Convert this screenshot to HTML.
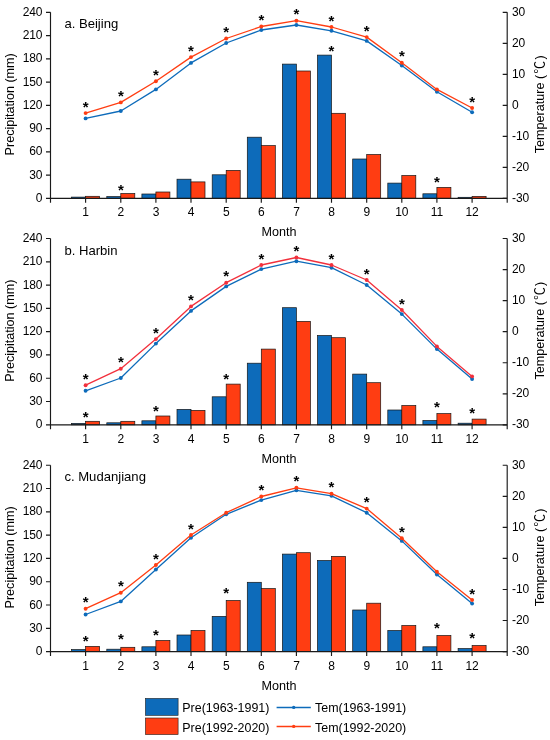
<!DOCTYPE html>
<html><head><meta charset="utf-8"><title>Precipitation and temperature</title>
<style>html,body{margin:0;padding:0;background:#fff}svg{display:block}text{font-family:"Liberation Sans","Noto Sans CJK SC",sans-serif;fill:#000}.t{font-size:12px;letter-spacing:-0.15px}.l{font-size:12.6px}.m{font-size:12.6px}.h{font-size:13.1px}.g{font-size:12.45px}.s{font-size:15px;font-weight:bold;text-anchor:middle}</style></head><body>
<svg width="550" height="740" viewBox="0 0 550 740">
<rect width="550" height="740" fill="#fff"/>
<rect x="71.6" y="197.1" width="14.0" height="1.2" fill="#0d6bba" stroke="#151515" stroke-width="0.7"/>
<rect x="85.6" y="196.3" width="14.0" height="2.0" fill="#ff3d12" stroke="#151515" stroke-width="0.7"/>
<rect x="106.8" y="196.6" width="14.0" height="1.7" fill="#0d6bba" stroke="#151515" stroke-width="0.7"/>
<rect x="120.8" y="193.5" width="14.0" height="4.8" fill="#ff3d12" stroke="#151515" stroke-width="0.7"/>
<rect x="141.9" y="194.0" width="14.0" height="4.3" fill="#0d6bba" stroke="#151515" stroke-width="0.7"/>
<rect x="155.9" y="192.0" width="14.0" height="6.3" fill="#ff3d12" stroke="#151515" stroke-width="0.7"/>
<rect x="177.0" y="179.2" width="14.0" height="19.1" fill="#0d6bba" stroke="#151515" stroke-width="0.7"/>
<rect x="191.0" y="181.9" width="14.0" height="16.4" fill="#ff3d12" stroke="#151515" stroke-width="0.7"/>
<rect x="212.2" y="174.8" width="14.0" height="23.5" fill="#0d6bba" stroke="#151515" stroke-width="0.7"/>
<rect x="226.2" y="170.4" width="14.0" height="27.9" fill="#ff3d12" stroke="#151515" stroke-width="0.7"/>
<rect x="247.3" y="137.2" width="14.0" height="61.1" fill="#0d6bba" stroke="#151515" stroke-width="0.7"/>
<rect x="261.3" y="145.6" width="14.0" height="52.7" fill="#ff3d12" stroke="#151515" stroke-width="0.7"/>
<rect x="282.4" y="64.1" width="14.0" height="134.2" fill="#0d6bba" stroke="#151515" stroke-width="0.7"/>
<rect x="296.4" y="71.0" width="14.0" height="127.3" fill="#ff3d12" stroke="#151515" stroke-width="0.7"/>
<rect x="317.5" y="55.1" width="14.0" height="143.2" fill="#0d6bba" stroke="#151515" stroke-width="0.7"/>
<rect x="331.5" y="113.3" width="14.0" height="85.0" fill="#ff3d12" stroke="#151515" stroke-width="0.7"/>
<rect x="352.7" y="159.0" width="14.0" height="39.3" fill="#0d6bba" stroke="#151515" stroke-width="0.7"/>
<rect x="366.7" y="154.5" width="14.0" height="43.8" fill="#ff3d12" stroke="#151515" stroke-width="0.7"/>
<rect x="387.8" y="183.1" width="14.0" height="15.2" fill="#0d6bba" stroke="#151515" stroke-width="0.7"/>
<rect x="401.8" y="175.5" width="14.0" height="22.8" fill="#ff3d12" stroke="#151515" stroke-width="0.7"/>
<rect x="422.9" y="193.8" width="14.0" height="4.5" fill="#0d6bba" stroke="#151515" stroke-width="0.7"/>
<rect x="436.9" y="187.4" width="14.0" height="10.9" fill="#ff3d12" stroke="#151515" stroke-width="0.7"/>
<rect x="458.1" y="197.3" width="14.0" height="1.0" fill="#0d6bba" stroke="#151515" stroke-width="0.7"/>
<rect x="472.1" y="196.4" width="14.0" height="1.9" fill="#ff3d12" stroke="#151515" stroke-width="0.7"/>
<path d="M50.5 12.3V202.8M507.2 12.3V202.8M50.5 198.3H507.2" stroke="#1a1a1a" stroke-width="1.15" fill="none"/>
<path d="M46.0 198.3H50.5M46.0 175.1H50.5M46.0 151.8H50.5M46.0 128.6H50.5M46.0 105.3H50.5M46.0 82.1H50.5M46.0 58.8H50.5M46.0 35.6H50.5M46.0 12.3H50.5M502.7 198.3H507.2M502.7 167.3H507.2M502.7 136.3H507.2M502.7 105.3H507.2M502.7 74.3H507.2M502.7 43.3H507.2M502.7 12.3H507.2M85.6 198.3v4.5M120.8 198.3v4.5M155.9 198.3v4.5M191.0 198.3v4.5M226.2 198.3v4.5M261.3 198.3v4.5M296.4 198.3v4.5M331.5 198.3v4.5M366.7 198.3v4.5M401.8 198.3v4.5M436.9 198.3v4.5M472.1 198.3v4.5" stroke="#1a1a1a" stroke-width="1.15" fill="none"/>
<text class="t" x="42.3" y="201.8" text-anchor="end">0</text>
<text class="t" x="42.3" y="178.6" text-anchor="end">30</text>
<text class="t" x="42.3" y="155.3" text-anchor="end">60</text>
<text class="t" x="42.3" y="132.1" text-anchor="end">90</text>
<text class="t" x="42.3" y="108.8" text-anchor="end">120</text>
<text class="t" x="42.3" y="85.6" text-anchor="end">150</text>
<text class="t" x="42.3" y="62.3" text-anchor="end">180</text>
<text class="t" x="42.3" y="39.1" text-anchor="end">210</text>
<text class="t" x="42.3" y="15.8" text-anchor="end">240</text>
<text class="t" x="512.1" y="201.7">-30</text>
<text class="t" x="512.1" y="170.7">-20</text>
<text class="t" x="512.1" y="139.7">-10</text>
<text class="t" x="512.1" y="108.7">0</text>
<text class="t" x="512.1" y="77.7">10</text>
<text class="t" x="512.1" y="46.7">20</text>
<text class="t" x="512.1" y="15.7">30</text>
<text class="t" x="85.6" y="216.3" text-anchor="middle">1</text>
<text class="t" x="120.8" y="216.3" text-anchor="middle">2</text>
<text class="t" x="155.9" y="216.3" text-anchor="middle">3</text>
<text class="t" x="191.0" y="216.3" text-anchor="middle">4</text>
<text class="t" x="226.2" y="216.3" text-anchor="middle">5</text>
<text class="t" x="261.3" y="216.3" text-anchor="middle">6</text>
<text class="t" x="296.4" y="216.3" text-anchor="middle">7</text>
<text class="t" x="331.5" y="216.3" text-anchor="middle">8</text>
<text class="t" x="366.7" y="216.3" text-anchor="middle">9</text>
<text class="t" x="401.8" y="216.3" text-anchor="middle">10</text>
<text class="t" x="436.9" y="216.3" text-anchor="middle">11</text>
<text class="t" x="472.1" y="216.3" text-anchor="middle">12</text>
<text class="l" transform="translate(13.6 104.3) rotate(-90)" text-anchor="middle">Precipitation (mm)</text>
<text class="l" transform="translate(543.5 104.3) rotate(-90)" text-anchor="middle">Temperature (<tspan dx="1.3">℃</tspan><tspan dx="1.3">)</tspan></text>
<text class="m" x="278.9" y="236.3" text-anchor="middle">Month</text>
<text class="h" x="64.4" y="28.3">a. Beijing</text>
<polyline points="85.6,118.4 120.8,111.0 155.9,89.4 191.0,62.9 226.2,43.0 261.3,30.0 296.4,25.0 331.5,30.8 366.7,40.9 401.8,65.5 436.9,91.8 472.1,112.2" fill="none" stroke="#0d6bba" stroke-width="1.3" stroke-linejoin="round"/>
<circle cx="85.6" cy="118.4" r="1.95" fill="#0d6bba"/>
<circle cx="120.8" cy="111.0" r="1.95" fill="#0d6bba"/>
<circle cx="155.9" cy="89.4" r="1.95" fill="#0d6bba"/>
<circle cx="191.0" cy="62.9" r="1.95" fill="#0d6bba"/>
<circle cx="226.2" cy="43.0" r="1.95" fill="#0d6bba"/>
<circle cx="261.3" cy="30.0" r="1.95" fill="#0d6bba"/>
<circle cx="296.4" cy="25.0" r="1.95" fill="#0d6bba"/>
<circle cx="331.5" cy="30.8" r="1.95" fill="#0d6bba"/>
<circle cx="366.7" cy="40.9" r="1.95" fill="#0d6bba"/>
<circle cx="401.8" cy="65.5" r="1.95" fill="#0d6bba"/>
<circle cx="436.9" cy="91.8" r="1.95" fill="#0d6bba"/>
<circle cx="472.1" cy="112.2" r="1.95" fill="#0d6bba"/>
<polyline points="85.6,113.1 120.8,102.4 155.9,81.2 191.0,57.1 226.2,38.5 261.3,26.5 296.4,20.7 331.5,27.0 366.7,37.1 401.8,62.7 436.9,89.4 472.1,108.0" fill="none" stroke="#ff3d12" stroke-width="1.3" stroke-linejoin="round"/>
<circle cx="85.6" cy="113.1" r="1.95" fill="#ff3d12"/>
<circle cx="120.8" cy="102.4" r="1.95" fill="#ff3d12"/>
<circle cx="155.9" cy="81.2" r="1.95" fill="#ff3d12"/>
<circle cx="191.0" cy="57.1" r="1.95" fill="#ff3d12"/>
<circle cx="226.2" cy="38.5" r="1.95" fill="#ff3d12"/>
<circle cx="261.3" cy="26.5" r="1.95" fill="#ff3d12"/>
<circle cx="296.4" cy="20.7" r="1.95" fill="#ff3d12"/>
<circle cx="331.5" cy="27.0" r="1.95" fill="#ff3d12"/>
<circle cx="366.7" cy="37.1" r="1.95" fill="#ff3d12"/>
<circle cx="401.8" cy="62.7" r="1.95" fill="#ff3d12"/>
<circle cx="436.9" cy="89.4" r="1.95" fill="#ff3d12"/>
<circle cx="472.1" cy="108.0" r="1.95" fill="#ff3d12"/>
<text class="s" x="85.6" y="111.6">*</text>
<text class="s" x="120.8" y="100.9">*</text>
<text class="s" x="155.9" y="79.7">*</text>
<text class="s" x="191.0" y="55.6">*</text>
<text class="s" x="226.2" y="37.0">*</text>
<text class="s" x="261.3" y="25.0">*</text>
<text class="s" x="296.4" y="19.2">*</text>
<text class="s" x="331.5" y="25.5">*</text>
<text class="s" x="366.7" y="35.6">*</text>
<text class="s" x="401.8" y="61.2">*</text>
<text class="s" x="472.1" y="106.5">*</text>
<text class="s" x="120.8" y="195.3">*</text>
<text class="s" x="331.5" y="56.0">*</text>
<text class="s" x="436.9" y="186.9">*</text>
<rect x="71.6" y="423.4" width="14.0" height="1.4" fill="#0d6bba" stroke="#151515" stroke-width="0.7"/>
<rect x="85.6" y="421.3" width="14.0" height="3.5" fill="#ff3d12" stroke="#151515" stroke-width="0.7"/>
<rect x="106.8" y="422.8" width="14.0" height="2.0" fill="#0d6bba" stroke="#151515" stroke-width="0.7"/>
<rect x="120.8" y="421.3" width="14.0" height="3.5" fill="#ff3d12" stroke="#151515" stroke-width="0.7"/>
<rect x="141.9" y="420.8" width="14.0" height="4.0" fill="#0d6bba" stroke="#151515" stroke-width="0.7"/>
<rect x="155.9" y="416.0" width="14.0" height="8.8" fill="#ff3d12" stroke="#151515" stroke-width="0.7"/>
<rect x="177.0" y="409.4" width="14.0" height="15.4" fill="#0d6bba" stroke="#151515" stroke-width="0.7"/>
<rect x="191.0" y="410.4" width="14.0" height="14.4" fill="#ff3d12" stroke="#151515" stroke-width="0.7"/>
<rect x="212.2" y="396.8" width="14.0" height="28.0" fill="#0d6bba" stroke="#151515" stroke-width="0.7"/>
<rect x="226.2" y="384.1" width="14.0" height="40.7" fill="#ff3d12" stroke="#151515" stroke-width="0.7"/>
<rect x="247.3" y="363.2" width="14.0" height="61.6" fill="#0d6bba" stroke="#151515" stroke-width="0.7"/>
<rect x="261.3" y="349.1" width="14.0" height="75.7" fill="#ff3d12" stroke="#151515" stroke-width="0.7"/>
<rect x="282.4" y="307.7" width="14.0" height="117.1" fill="#0d6bba" stroke="#151515" stroke-width="0.7"/>
<rect x="296.4" y="321.4" width="14.0" height="103.4" fill="#ff3d12" stroke="#151515" stroke-width="0.7"/>
<rect x="317.5" y="335.5" width="14.0" height="89.3" fill="#0d6bba" stroke="#151515" stroke-width="0.7"/>
<rect x="331.5" y="337.7" width="14.0" height="87.1" fill="#ff3d12" stroke="#151515" stroke-width="0.7"/>
<rect x="352.7" y="374.1" width="14.0" height="50.7" fill="#0d6bba" stroke="#151515" stroke-width="0.7"/>
<rect x="366.7" y="382.7" width="14.0" height="42.1" fill="#ff3d12" stroke="#151515" stroke-width="0.7"/>
<rect x="387.8" y="410.0" width="14.0" height="14.8" fill="#0d6bba" stroke="#151515" stroke-width="0.7"/>
<rect x="401.8" y="405.5" width="14.0" height="19.3" fill="#ff3d12" stroke="#151515" stroke-width="0.7"/>
<rect x="422.9" y="420.5" width="14.0" height="4.3" fill="#0d6bba" stroke="#151515" stroke-width="0.7"/>
<rect x="436.9" y="413.6" width="14.0" height="11.2" fill="#ff3d12" stroke="#151515" stroke-width="0.7"/>
<rect x="458.1" y="423.2" width="14.0" height="1.6" fill="#0d6bba" stroke="#151515" stroke-width="0.7"/>
<rect x="472.1" y="419.1" width="14.0" height="5.7" fill="#ff3d12" stroke="#151515" stroke-width="0.7"/>
<path d="M50.5 238.5V429.3M507.2 238.5V429.3M50.5 424.8H507.2" stroke="#1a1a1a" stroke-width="1.15" fill="none"/>
<path d="M46.0 424.8H50.5M46.0 401.5H50.5M46.0 378.2H50.5M46.0 354.9H50.5M46.0 331.6H50.5M46.0 308.4H50.5M46.0 285.1H50.5M46.0 261.8H50.5M46.0 238.5H50.5M502.7 424.8H507.2M502.7 393.8H507.2M502.7 362.7H507.2M502.7 331.6H507.2M502.7 300.6H507.2M502.7 269.6H507.2M502.7 238.5H507.2M85.6 424.8v4.5M120.8 424.8v4.5M155.9 424.8v4.5M191.0 424.8v4.5M226.2 424.8v4.5M261.3 424.8v4.5M296.4 424.8v4.5M331.5 424.8v4.5M366.7 424.8v4.5M401.8 424.8v4.5M436.9 424.8v4.5M472.1 424.8v4.5" stroke="#1a1a1a" stroke-width="1.15" fill="none"/>
<text class="t" x="42.3" y="428.3" text-anchor="end">0</text>
<text class="t" x="42.3" y="405.0" text-anchor="end">30</text>
<text class="t" x="42.3" y="381.7" text-anchor="end">60</text>
<text class="t" x="42.3" y="358.4" text-anchor="end">90</text>
<text class="t" x="42.3" y="335.1" text-anchor="end">120</text>
<text class="t" x="42.3" y="311.9" text-anchor="end">150</text>
<text class="t" x="42.3" y="288.6" text-anchor="end">180</text>
<text class="t" x="42.3" y="265.3" text-anchor="end">210</text>
<text class="t" x="42.3" y="242.0" text-anchor="end">240</text>
<text class="t" x="512.1" y="428.2">-30</text>
<text class="t" x="512.1" y="397.1">-20</text>
<text class="t" x="512.1" y="366.1">-10</text>
<text class="t" x="512.1" y="335.0">0</text>
<text class="t" x="512.1" y="304.0">10</text>
<text class="t" x="512.1" y="272.9">20</text>
<text class="t" x="512.1" y="241.9">30</text>
<text class="t" x="85.6" y="442.8" text-anchor="middle">1</text>
<text class="t" x="120.8" y="442.8" text-anchor="middle">2</text>
<text class="t" x="155.9" y="442.8" text-anchor="middle">3</text>
<text class="t" x="191.0" y="442.8" text-anchor="middle">4</text>
<text class="t" x="226.2" y="442.8" text-anchor="middle">5</text>
<text class="t" x="261.3" y="442.8" text-anchor="middle">6</text>
<text class="t" x="296.4" y="442.8" text-anchor="middle">7</text>
<text class="t" x="331.5" y="442.8" text-anchor="middle">8</text>
<text class="t" x="366.7" y="442.8" text-anchor="middle">9</text>
<text class="t" x="401.8" y="442.8" text-anchor="middle">10</text>
<text class="t" x="436.9" y="442.8" text-anchor="middle">11</text>
<text class="t" x="472.1" y="442.8" text-anchor="middle">12</text>
<text class="l" transform="translate(13.6 330.6) rotate(-90)" text-anchor="middle">Precipitation (mm)</text>
<text class="l" transform="translate(543.5 330.6) rotate(-90)" text-anchor="middle">Temperature (<tspan dx="1.3">℃</tspan><tspan dx="1.3">)</tspan></text>
<text class="m" x="278.9" y="462.8" text-anchor="middle">Month</text>
<text class="h" x="64.4" y="254.5">b. Harbin</text>
<polyline points="85.6,390.8 120.8,378.0 155.9,343.6 191.0,310.9 226.2,286.4 261.3,269.1 296.4,261.2 331.5,267.7 366.7,285.0 401.8,314.1 436.9,349.1 472.1,379.1" fill="none" stroke="#0d6bba" stroke-width="1.3" stroke-linejoin="round"/>
<circle cx="85.6" cy="390.8" r="1.95" fill="#0d6bba"/>
<circle cx="120.8" cy="378.0" r="1.95" fill="#0d6bba"/>
<circle cx="155.9" cy="343.6" r="1.95" fill="#0d6bba"/>
<circle cx="191.0" cy="310.9" r="1.95" fill="#0d6bba"/>
<circle cx="226.2" cy="286.4" r="1.95" fill="#0d6bba"/>
<circle cx="261.3" cy="269.1" r="1.95" fill="#0d6bba"/>
<circle cx="296.4" cy="261.2" r="1.95" fill="#0d6bba"/>
<circle cx="331.5" cy="267.7" r="1.95" fill="#0d6bba"/>
<circle cx="366.7" cy="285.0" r="1.95" fill="#0d6bba"/>
<circle cx="401.8" cy="314.1" r="1.95" fill="#0d6bba"/>
<circle cx="436.9" cy="349.1" r="1.95" fill="#0d6bba"/>
<circle cx="472.1" cy="379.1" r="1.95" fill="#0d6bba"/>
<polyline points="85.6,385.2 120.8,368.7 155.9,339.1 191.0,306.4 226.2,282.7 261.3,265.0 296.4,257.5 331.5,265.0 366.7,280.0 401.8,310.0 436.9,346.4 472.1,376.4" fill="none" stroke="#f2303c" stroke-width="1.3" stroke-linejoin="round"/>
<circle cx="85.6" cy="385.2" r="1.95" fill="#f2303c"/>
<circle cx="120.8" cy="368.7" r="1.95" fill="#f2303c"/>
<circle cx="155.9" cy="339.1" r="1.95" fill="#f2303c"/>
<circle cx="191.0" cy="306.4" r="1.95" fill="#f2303c"/>
<circle cx="226.2" cy="282.7" r="1.95" fill="#f2303c"/>
<circle cx="261.3" cy="265.0" r="1.95" fill="#f2303c"/>
<circle cx="296.4" cy="257.5" r="1.95" fill="#f2303c"/>
<circle cx="331.5" cy="265.0" r="1.95" fill="#f2303c"/>
<circle cx="366.7" cy="280.0" r="1.95" fill="#f2303c"/>
<circle cx="401.8" cy="310.0" r="1.95" fill="#f2303c"/>
<circle cx="436.9" cy="346.4" r="1.95" fill="#f2303c"/>
<circle cx="472.1" cy="376.4" r="1.95" fill="#f2303c"/>
<text class="s" x="85.6" y="383.7">*</text>
<text class="s" x="120.8" y="367.2">*</text>
<text class="s" x="155.9" y="337.6">*</text>
<text class="s" x="191.0" y="304.9">*</text>
<text class="s" x="226.2" y="281.2">*</text>
<text class="s" x="261.3" y="263.5">*</text>
<text class="s" x="296.4" y="256.0">*</text>
<text class="s" x="331.5" y="263.5">*</text>
<text class="s" x="366.7" y="278.5">*</text>
<text class="s" x="401.8" y="308.5">*</text>
<text class="s" x="85.6" y="421.5">*</text>
<text class="s" x="155.9" y="415.7">*</text>
<text class="s" x="226.2" y="383.9">*</text>
<text class="s" x="436.9" y="411.7">*</text>
<text class="s" x="472.1" y="417.5">*</text>
<rect x="71.6" y="649.6" width="14.0" height="2.0" fill="#0d6bba" stroke="#151515" stroke-width="0.7"/>
<rect x="85.6" y="646.4" width="14.0" height="5.2" fill="#ff3d12" stroke="#151515" stroke-width="0.7"/>
<rect x="106.8" y="649.2" width="14.0" height="2.4" fill="#0d6bba" stroke="#151515" stroke-width="0.7"/>
<rect x="120.8" y="647.3" width="14.0" height="4.3" fill="#ff3d12" stroke="#151515" stroke-width="0.7"/>
<rect x="141.9" y="646.8" width="14.0" height="4.8" fill="#0d6bba" stroke="#151515" stroke-width="0.7"/>
<rect x="155.9" y="640.5" width="14.0" height="11.1" fill="#ff3d12" stroke="#151515" stroke-width="0.7"/>
<rect x="177.0" y="635.0" width="14.0" height="16.6" fill="#0d6bba" stroke="#151515" stroke-width="0.7"/>
<rect x="191.0" y="630.5" width="14.0" height="21.1" fill="#ff3d12" stroke="#151515" stroke-width="0.7"/>
<rect x="212.2" y="616.4" width="14.0" height="35.2" fill="#0d6bba" stroke="#151515" stroke-width="0.7"/>
<rect x="226.2" y="600.5" width="14.0" height="51.1" fill="#ff3d12" stroke="#151515" stroke-width="0.7"/>
<rect x="247.3" y="582.3" width="14.0" height="69.3" fill="#0d6bba" stroke="#151515" stroke-width="0.7"/>
<rect x="261.3" y="588.6" width="14.0" height="63.0" fill="#ff3d12" stroke="#151515" stroke-width="0.7"/>
<rect x="282.4" y="554.1" width="14.0" height="97.5" fill="#0d6bba" stroke="#151515" stroke-width="0.7"/>
<rect x="296.4" y="552.7" width="14.0" height="98.9" fill="#ff3d12" stroke="#151515" stroke-width="0.7"/>
<rect x="317.5" y="560.5" width="14.0" height="91.1" fill="#0d6bba" stroke="#151515" stroke-width="0.7"/>
<rect x="331.5" y="556.4" width="14.0" height="95.2" fill="#ff3d12" stroke="#151515" stroke-width="0.7"/>
<rect x="352.7" y="610.0" width="14.0" height="41.6" fill="#0d6bba" stroke="#151515" stroke-width="0.7"/>
<rect x="366.7" y="603.2" width="14.0" height="48.4" fill="#ff3d12" stroke="#151515" stroke-width="0.7"/>
<rect x="387.8" y="630.5" width="14.0" height="21.1" fill="#0d6bba" stroke="#151515" stroke-width="0.7"/>
<rect x="401.8" y="625.5" width="14.0" height="26.1" fill="#ff3d12" stroke="#151515" stroke-width="0.7"/>
<rect x="422.9" y="646.8" width="14.0" height="4.8" fill="#0d6bba" stroke="#151515" stroke-width="0.7"/>
<rect x="436.9" y="635.5" width="14.0" height="16.1" fill="#ff3d12" stroke="#151515" stroke-width="0.7"/>
<rect x="458.1" y="648.6" width="14.0" height="3.0" fill="#0d6bba" stroke="#151515" stroke-width="0.7"/>
<rect x="472.1" y="645.5" width="14.0" height="6.1" fill="#ff3d12" stroke="#151515" stroke-width="0.7"/>
<path d="M50.5 465.2V656.1M507.2 465.2V656.1M50.5 651.6H507.2" stroke="#1a1a1a" stroke-width="1.15" fill="none"/>
<path d="M46.0 651.6H50.5M46.0 628.3H50.5M46.0 605.0H50.5M46.0 581.7H50.5M46.0 558.4H50.5M46.0 535.1H50.5M46.0 511.8H50.5M46.0 488.5H50.5M46.0 465.2H50.5M502.7 651.6H507.2M502.7 620.5H507.2M502.7 589.5H507.2M502.7 558.4H507.2M502.7 527.3H507.2M502.7 496.3H507.2M502.7 465.2H507.2M85.6 651.6v4.5M120.8 651.6v4.5M155.9 651.6v4.5M191.0 651.6v4.5M226.2 651.6v4.5M261.3 651.6v4.5M296.4 651.6v4.5M331.5 651.6v4.5M366.7 651.6v4.5M401.8 651.6v4.5M436.9 651.6v4.5M472.1 651.6v4.5" stroke="#1a1a1a" stroke-width="1.15" fill="none"/>
<text class="t" x="42.3" y="655.1" text-anchor="end">0</text>
<text class="t" x="42.3" y="631.8" text-anchor="end">30</text>
<text class="t" x="42.3" y="608.5" text-anchor="end">60</text>
<text class="t" x="42.3" y="585.2" text-anchor="end">90</text>
<text class="t" x="42.3" y="561.9" text-anchor="end">120</text>
<text class="t" x="42.3" y="538.6" text-anchor="end">150</text>
<text class="t" x="42.3" y="515.3" text-anchor="end">180</text>
<text class="t" x="42.3" y="492.0" text-anchor="end">210</text>
<text class="t" x="42.3" y="468.7" text-anchor="end">240</text>
<text class="t" x="512.1" y="655.0">-30</text>
<text class="t" x="512.1" y="623.9">-20</text>
<text class="t" x="512.1" y="592.9">-10</text>
<text class="t" x="512.1" y="561.8">0</text>
<text class="t" x="512.1" y="530.7">10</text>
<text class="t" x="512.1" y="499.7">20</text>
<text class="t" x="512.1" y="468.6">30</text>
<text class="t" x="85.6" y="669.6" text-anchor="middle">1</text>
<text class="t" x="120.8" y="669.6" text-anchor="middle">2</text>
<text class="t" x="155.9" y="669.6" text-anchor="middle">3</text>
<text class="t" x="191.0" y="669.6" text-anchor="middle">4</text>
<text class="t" x="226.2" y="669.6" text-anchor="middle">5</text>
<text class="t" x="261.3" y="669.6" text-anchor="middle">6</text>
<text class="t" x="296.4" y="669.6" text-anchor="middle">7</text>
<text class="t" x="331.5" y="669.6" text-anchor="middle">8</text>
<text class="t" x="366.7" y="669.6" text-anchor="middle">9</text>
<text class="t" x="401.8" y="669.6" text-anchor="middle">10</text>
<text class="t" x="436.9" y="669.6" text-anchor="middle">11</text>
<text class="t" x="472.1" y="669.6" text-anchor="middle">12</text>
<text class="l" transform="translate(13.6 557.4) rotate(-90)" text-anchor="middle">Precipitation (mm)</text>
<text class="l" transform="translate(543.5 557.4) rotate(-90)" text-anchor="middle">Temperature (<tspan dx="1.3">℃</tspan><tspan dx="1.3">)</tspan></text>
<text class="m" x="278.9" y="689.6" text-anchor="middle">Month</text>
<text class="h" x="64.4" y="481.2">c. Mudanjiang</text>
<polyline points="85.6,614.5 120.8,601.4 155.9,569.5 191.0,537.7 226.2,514.3 261.3,500.1 296.4,490.3 331.5,495.8 366.7,512.7 401.8,540.9 436.9,574.5 472.1,603.6" fill="none" stroke="#0d6bba" stroke-width="1.3" stroke-linejoin="round"/>
<circle cx="85.6" cy="614.5" r="1.95" fill="#0d6bba"/>
<circle cx="120.8" cy="601.4" r="1.95" fill="#0d6bba"/>
<circle cx="155.9" cy="569.5" r="1.95" fill="#0d6bba"/>
<circle cx="191.0" cy="537.7" r="1.95" fill="#0d6bba"/>
<circle cx="226.2" cy="514.3" r="1.95" fill="#0d6bba"/>
<circle cx="261.3" cy="500.1" r="1.95" fill="#0d6bba"/>
<circle cx="296.4" cy="490.3" r="1.95" fill="#0d6bba"/>
<circle cx="331.5" cy="495.8" r="1.95" fill="#0d6bba"/>
<circle cx="366.7" cy="512.7" r="1.95" fill="#0d6bba"/>
<circle cx="401.8" cy="540.9" r="1.95" fill="#0d6bba"/>
<circle cx="436.9" cy="574.5" r="1.95" fill="#0d6bba"/>
<circle cx="472.1" cy="603.6" r="1.95" fill="#0d6bba"/>
<polyline points="85.6,608.7 120.8,592.7 155.9,565.0 191.0,535.0 226.2,512.7 261.3,496.5 296.4,487.8 331.5,493.7 366.7,508.6 401.8,538.2 436.9,571.8 472.1,600.0" fill="none" stroke="#ff3d12" stroke-width="1.3" stroke-linejoin="round"/>
<circle cx="85.6" cy="608.7" r="1.95" fill="#ff3d12"/>
<circle cx="120.8" cy="592.7" r="1.95" fill="#ff3d12"/>
<circle cx="155.9" cy="565.0" r="1.95" fill="#ff3d12"/>
<circle cx="191.0" cy="535.0" r="1.95" fill="#ff3d12"/>
<circle cx="226.2" cy="512.7" r="1.95" fill="#ff3d12"/>
<circle cx="261.3" cy="496.5" r="1.95" fill="#ff3d12"/>
<circle cx="296.4" cy="487.8" r="1.95" fill="#ff3d12"/>
<circle cx="331.5" cy="493.7" r="1.95" fill="#ff3d12"/>
<circle cx="366.7" cy="508.6" r="1.95" fill="#ff3d12"/>
<circle cx="401.8" cy="538.2" r="1.95" fill="#ff3d12"/>
<circle cx="436.9" cy="571.8" r="1.95" fill="#ff3d12"/>
<circle cx="472.1" cy="600.0" r="1.95" fill="#ff3d12"/>
<text class="s" x="85.6" y="607.2">*</text>
<text class="s" x="120.8" y="591.2">*</text>
<text class="s" x="155.9" y="563.5">*</text>
<text class="s" x="191.0" y="533.5">*</text>
<text class="s" x="261.3" y="495.0">*</text>
<text class="s" x="296.4" y="486.3">*</text>
<text class="s" x="331.5" y="492.2">*</text>
<text class="s" x="366.7" y="507.1">*</text>
<text class="s" x="401.8" y="536.7">*</text>
<text class="s" x="472.1" y="598.5">*</text>
<text class="s" x="85.6" y="645.9">*</text>
<text class="s" x="120.8" y="643.6">*</text>
<text class="s" x="155.9" y="640.1">*</text>
<text class="s" x="226.2" y="597.9">*</text>
<text class="s" x="436.9" y="633.2">*</text>
<text class="s" x="472.1" y="642.7">*</text>
<rect x="145.4" y="698.4" width="32.7" height="17.0" fill="#0d6bba" stroke="#222" stroke-width="0.6"/>
<rect x="145.4" y="718.0" width="32.7" height="16.6" fill="#ff3d12" stroke="#222" stroke-width="0.6"/>
<text class="g" x="182.3" y="712.4">Pre(1963-1991)</text>
<text class="g" x="182.3" y="731.9">Pre(1992-2020)</text>
<path d="M276.6 707.4H310.8" stroke="#0d6bba" stroke-width="1.5"/><circle cx="293.7" cy="707.4" r="1.7" fill="#0d6bba"/>
<path d="M276.6 726.4H310.8" stroke="#ff3d12" stroke-width="1.5"/><circle cx="293.7" cy="726.4" r="1.7" fill="#ff3d12"/>
<text class="g" x="315.0" y="712.4">Tem(1963-1991)</text>
<text class="g" x="315.0" y="731.9">Tem(1992-2020)</text>
</svg></body></html>
